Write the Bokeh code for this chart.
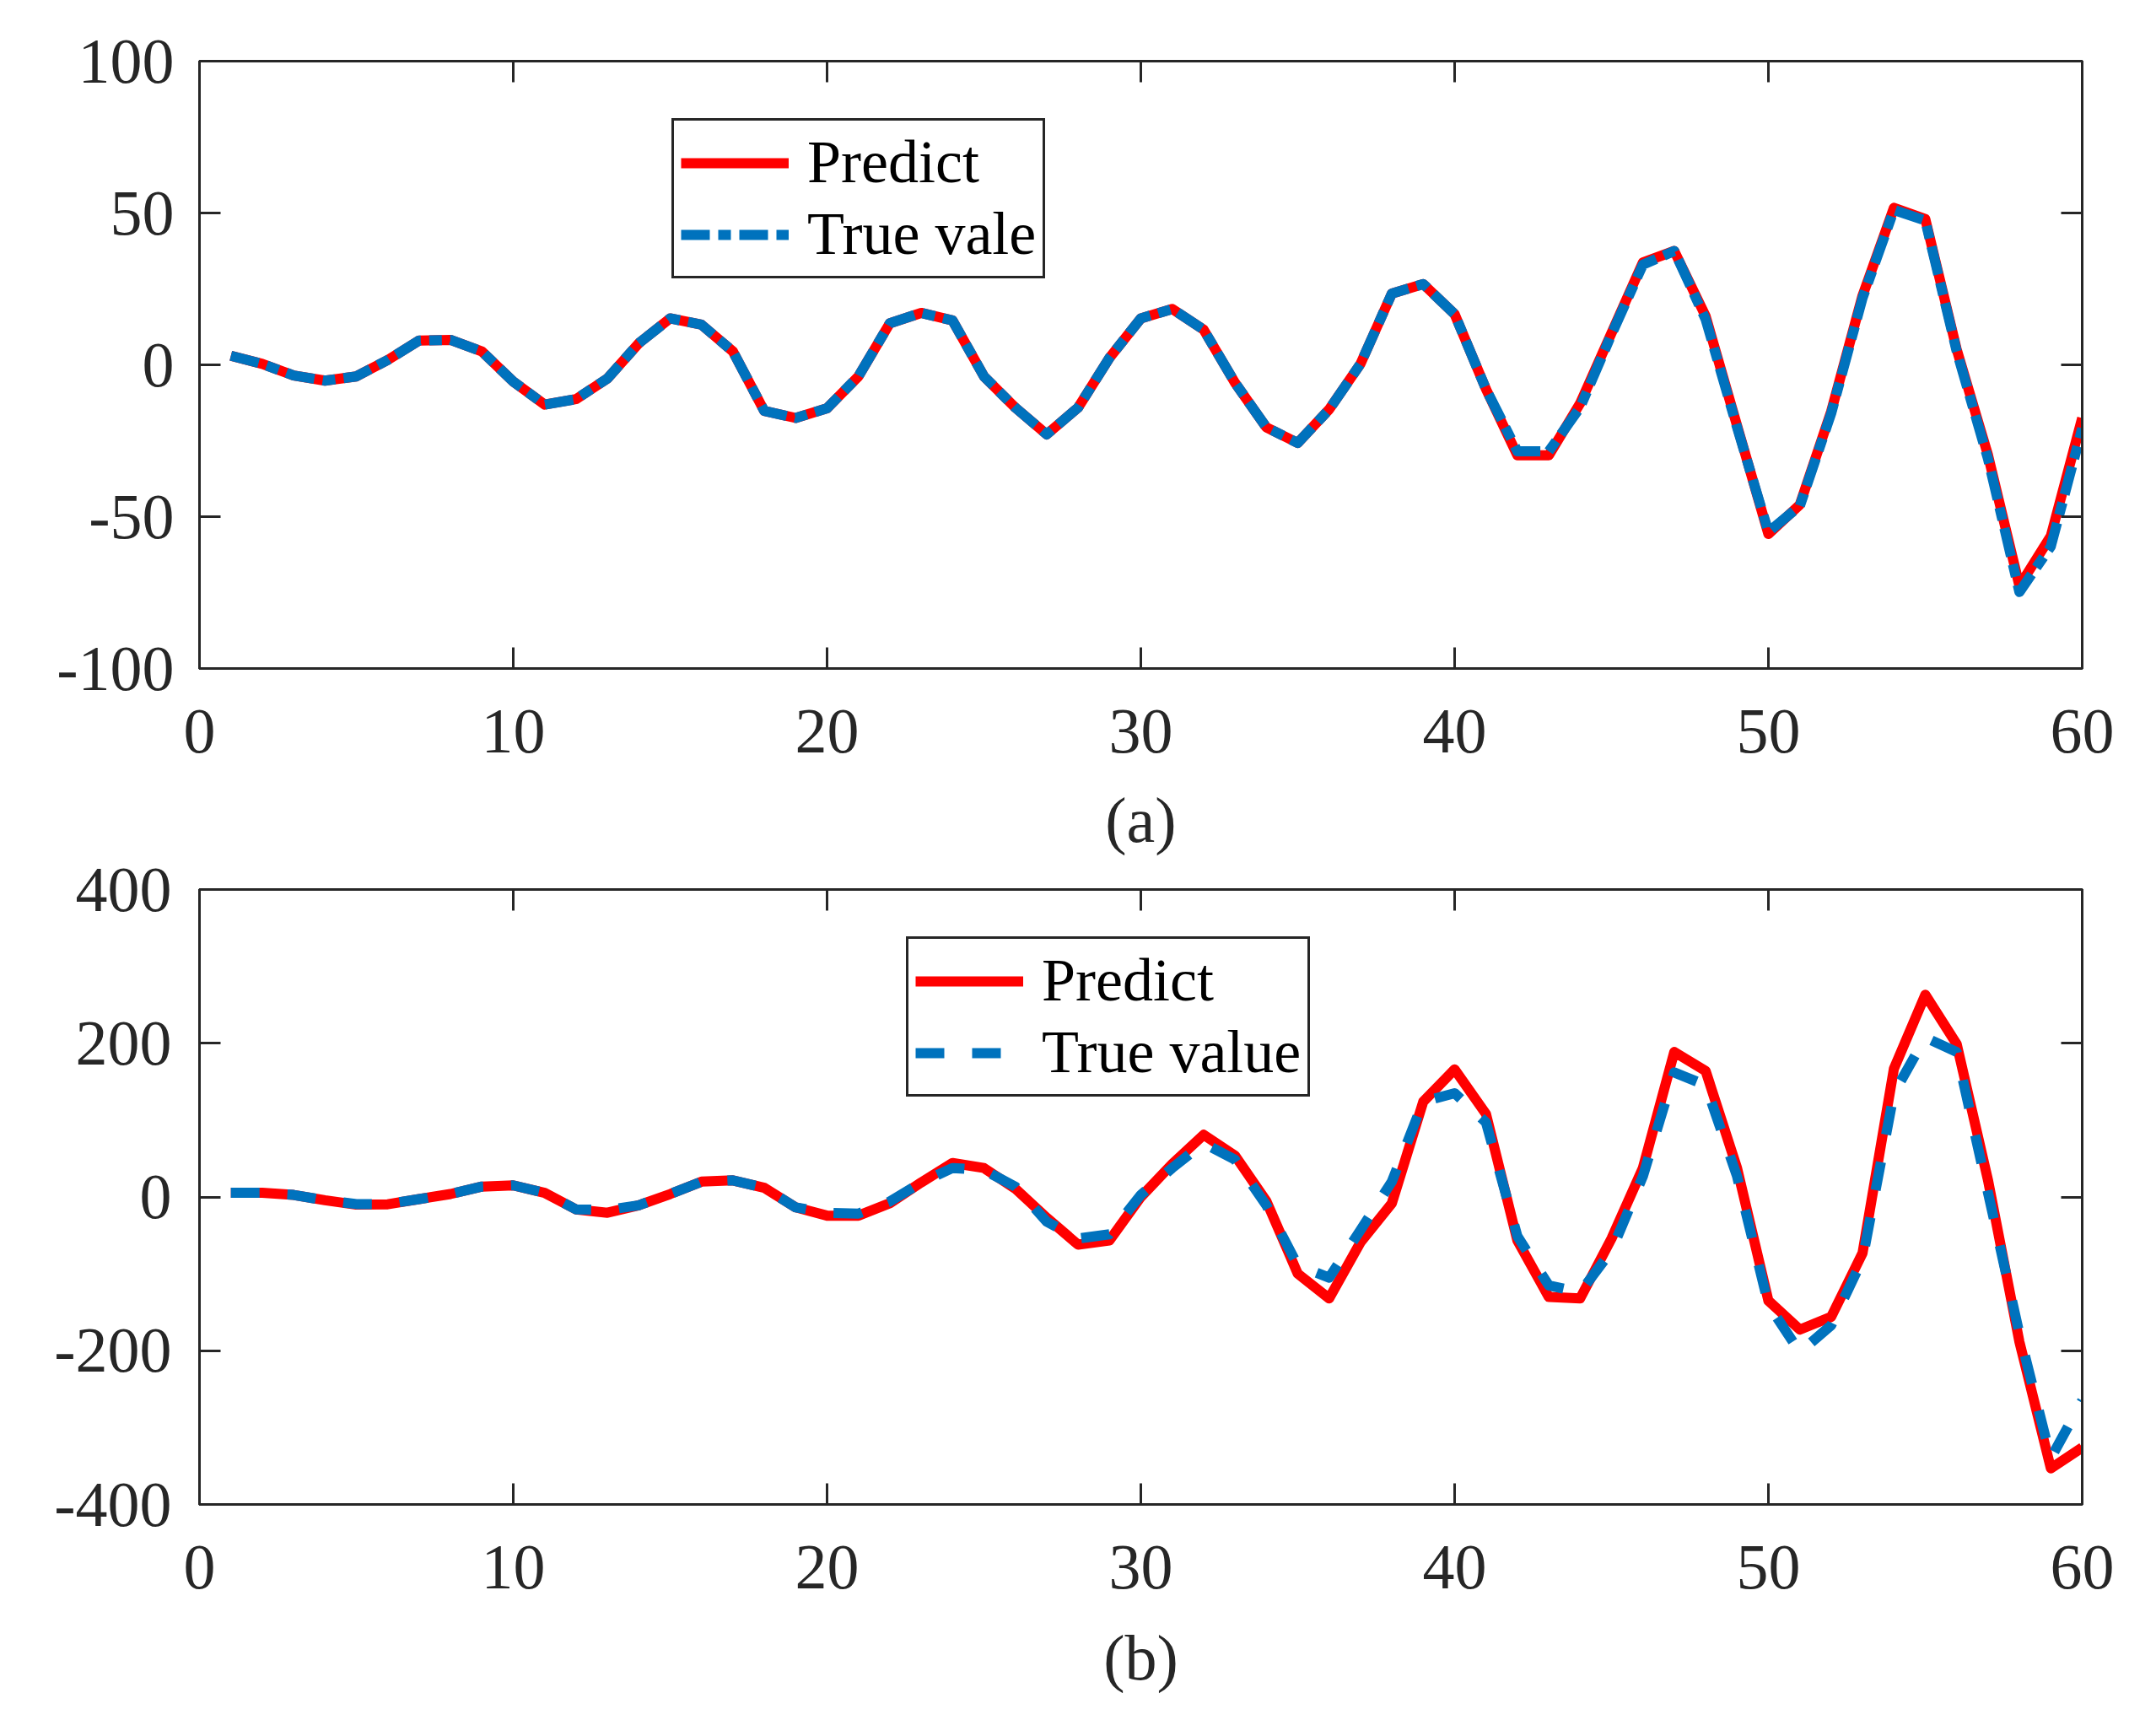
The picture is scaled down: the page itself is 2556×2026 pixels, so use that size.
from bokeh.plotting import figure
from bokeh.models import Range1d, LinearAxis, FixedTicker, Legend, LegendItem, CustomJSTickFormatter
from bokeh.layouts import column
from bokeh.embed import file_html
from bokeh.resources import INLINE

x = list(range(1, 61))

pred_a = [3.0, 0.3, -3.5, -5.2, -3.8, 1.6, 8.0, 8.2, 4.4, -5.5,
          -13.1, -11.3, -4.5, 7.1, 15.3, 13.2, 4.4, -15.2, -17.5, -14.3,
          -3.8, 13.7, 17.1, 14.6, -3.8, -14.1, -22.9, -14.1, 2.3, 15.3,
          18.4, 11.6, -5.9, -20.6, -25.7, -14.7, 0.3, 23.5, 26.6, 16.7,
          -8.0, -29.8, -29.8, -12.7, 10.5, 33.7, 37.5, 16.0, -20.0, -55.7,
          -46.1, -15.4, 22.8, 51.7, 48.0, 5.1, -29.8, -72.8, -56.4, -17.5]
true_a = [3.0, 0.3, -3.5, -5.2, -3.8, 1.6, 8.0, 8.2, 4.4, -5.5,
          -13.1, -11.3, -4.5, 7.1, 15.3, 13.2, 4.4, -15.2, -17.5, -14.3,
          -3.8, 13.7, 17.1, 14.6, -3.8, -14.1, -22.9, -14.1, 2.3, 15.3,
          18.4, 11.6, -5.9, -20.6, -25.7, -14.7, 0.3, 23.5, 26.6, 16.7,
          -8.0, -28.5, -28.5, -14.0, 10.0, 33.0, 37.5, 15.0, -20.5, -55.0,
          -46.5, -16.0, 22.0, 51.0, 47.5, 4.5, -31.0, -74.8, -59.8, -20.9]

pred_b = [5.4, 5.4, 2.7, -4.3, -10.0, -9.5, -2.7, 3.8, 13.5, 15.1,
          5.4, -16.2, -20.5, -10.8, 3.8, 19.9, 21.6, 11.9, -13.5, -24.3,
          -24.3, -8.1, 18.9, 44.2, 37.7, 10.8, -27.0, -62.0, -56.6, 0.0,
          43.0, 80.9, 53.9, -5.4, -99.7, -132.0, -59.0, -8.1, 124.0, 166.0,
          108.0, -56.6, -130.0, -132.0, -54.0, 37.7, 188.6, 164.0, 37.7, -135.0,
          -172.5, -156.0, -73.0, 167.0, 263.0, 199.0, 21.6, -188.6, -353.0, -326.0]
true_b = [5.4, 5.4, 2.7, -4.3, -9.2, -9.2, -2.7, 3.8, 13.5, 15.1,
          5.4, -16.2, -17.0, -10.8, 3.8, 19.9, 21.6, 11.9, -13.5, -20.5,
          -21.6, -6.0, 18.9, 37.7, 35.0, 13.5, -32.0, -54.0, -48.5, 2.7,
          37.7, 70.0, 48.5, -10.8, -89.0, -105.0, -43.0, 20.0, 124.0, 135.0,
          97.0, -51.0, -115.0, -124.0, -70.0, 27.0, 162.0, 145.5, 27.0, -140.0,
          -202.0, -167.0, -81.0, 135.0, 207.5, 188.6, 5.4, -178.0, -340.0, -265.0]

x_ticks = [0, 10, 20, 30, 40, 50, 60]
x_tick_labels = ["0", "10", "20", "30", "40", "50", "60"]
ya_ticks = [-100, -50, 0, 50, 100]
ya_tick_labels = ["-100", "-50", "0", "50", "100"]
yb_ticks = [-400, -200, 0, 200, 400]
yb_tick_labels = ["-400", "-200", "0", "200", "400"]

labels_a = ["Predict", "True vale"]
labels_b = ["Predict", "True value"]
panel_a = "(a)"
panel_b = "(b)"

FONT = "Liberation Serif"
AX = "#262626"
RED = "#FF0000"
BLUE = "#0072BD"
FS = "76px"
LFS = "72px"


def style_axis(ax, ticks, labels, show_labels):
    ax.ticker = FixedTicker(ticks=ticks, minor_ticks=[])
    ax.axis_line_color = AX
    ax.axis_line_width = 3
    ax.major_tick_line_color = AX
    ax.major_tick_line_width = 3
    ax.major_tick_in = 25
    ax.major_tick_out = 0
    ax.minor_tick_line_color = None
    ax.major_label_text_font = FONT
    ax.major_label_text_color = AX
    if show_labels:
        ax.major_label_overrides = {t: l for t, l in zip(ticks, labels)}
        ax.major_label_text_font_size = FS
    else:
        ax.formatter = CustomJSTickFormatter(code="return '';")
        ax.major_label_text_font_size = "10px"
        ax.major_label_standoff = 0


def make_panel(pred, true, ylo, yhi, yticks, ylabels, leg_labels, dash, lw,
               frame_h, mb, leg_loc, ystand, xlabel, xl_standoff, margin=None):
    kw = {}
    if margin is not None:
        kw["margin"] = margin
    p = figure(frame_width=2232, frame_height=frame_h,
               x_range=Range1d(0, 60), y_range=Range1d(ylo, yhi),
               output_backend="svg", toolbar_location=None,
               min_border_left=mb[0], min_border_right=mb[1],
               min_border_top=mb[2], min_border_bottom=mb[3], **kw)
    p.grid.visible = False
    p.outline_line_color = AX
    p.outline_line_width = 3
    p.outline_line_alpha = 1.0
    p.background_fill_color = "white"
    p.border_fill_color = "white"

    xb = p.below[0]
    yl = p.left[0]
    style_axis(xb, x_ticks, x_tick_labels, True)
    style_axis(yl, yticks, ylabels, True)
    xb.major_label_standoff = 49
    yl.major_label_standoff = ystand
    xb.axis_label = xlabel
    xb.axis_label_text_font = FONT
    xb.axis_label_text_font_size = FS
    xb.axis_label_text_font_style = "normal"
    xb.axis_label_text_color = AX
    xb.axis_label_standoff = xl_standoff

    top = LinearAxis()
    style_axis(top, x_ticks, x_tick_labels, False)
    p.add_layout(top, "above")
    right = LinearAxis()
    style_axis(right, yticks, ylabels, False)
    p.add_layout(right, "right")

    r1 = p.line(x, pred, line_color=RED, line_width=lw, line_join="round")
    r2 = p.line(x, true, line_color=BLUE, line_width=lw, line_dash=dash,
                line_join="round")

    leg = Legend(items=[LegendItem(label=leg_labels[0], renderers=[r1]),
                        LegendItem(label=leg_labels[1], renderers=[r2])],
                 location=leg_loc)
    leg.label_text_font = FONT
    leg.label_text_font_size = LFS
    leg.label_text_color = "black"
    leg.glyph_width = 128
    leg.glyph_height = 70
    leg.label_height = 70
    leg.label_standoff = 22
    leg.padding = 8
    leg.spacing = 2
    leg.margin = 0
    leg.border_line_color = AX
    leg.border_line_width = 3
    leg.border_line_alpha = 1.0
    leg.background_fill_color = "white"
    leg.background_fill_alpha = 1.0
    p.add_layout(leg)
    return p


pa = make_panel(pred_a, true_a, -100, 100, ya_ticks, ya_tick_labels,
                labels_a, "34 10 15 10", 12, 720, (236, 70, 72, 245), (560, 462), 30,
                panel_a, 35)
# the lower panel's transparent top border overlaps the caption area of panel (a)
pb = make_panel(pred_b, true_b, -400, 400, yb_ticks, yb_tick_labels,
                labels_b, "34 33", 12, 729, (233, 73, 60, 230), (838, 483), 33,
                panel_b, 37, margin=(-43, 0, 0, 0))
pb.border_fill_alpha = 0.0

layout = column(pa, pb, spacing=0)
open("out.html", "w").write(file_html(layout, INLINE))
